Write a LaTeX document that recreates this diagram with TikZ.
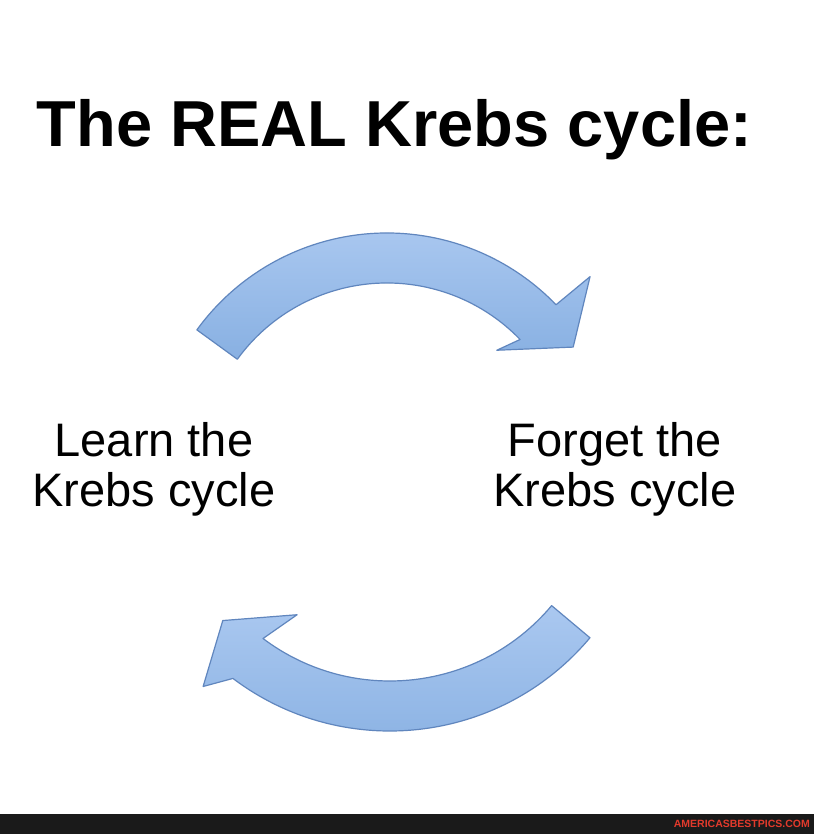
\documentclass[tikz,border=0pt]{standalone}
\usepackage{fontspec}
\setmainfont{Liberation Sans}
\usepackage{xcolor}

\definecolor{arrowfill}{RGB}{136,176,226}
\definecolor{arrowlight}{RGB}{170,200,240}
\definecolor{arrowedge}{RGB}{96,134,190}
\definecolor{barblack}{RGB}{26,26,26}
\definecolor{sitered}{RGB}{226,58,44}

\begin{document}
\begin{tikzpicture}[x=1pt, y=1pt,
    title/.style={font=\fontsize{65}{70}\selectfont\bfseries, inner sep=0pt},
    cyclelabel/.style={font=\fontsize{47}{50}\selectfont, align=center, inner sep=0pt},
    bigarrow/.style={draw=arrowedge, line width=1.2pt, line join=round, top color=arrowlight, bottom color=arrowfill},
    site/.style={font=\fontsize{10.5}{12}\selectfont\bfseries, text=sitered, inner sep=0pt}
]

% Frame
\fill[white] (0,0) rectangle (814,834);
\useasboundingbox (0,0) rectangle (814,834);

% Texts
\node[title, anchor=base] (title) at (394.5,687) {The REAL Krebs cycle:};
\node[cyclelabel, anchor=base] (learn) at (154,327) {Learn the\\Krebs cycle};
\node[cyclelabel, anchor=base] (forget) at (615,327) {Forget the\\Krebs cycle};

% Arrows
\coordinate (topc) at (387,366);
\coordinate (botc) at (390,364);
\path[bigarrow, shift={(topc)}] (144:235pt) arc[start angle=144, end angle=44, radius=235pt]
    -- (43.3:279pt) -- (33:222pt) -- (47:161pt) -- (44:185pt)
    arc[start angle=44, end angle=144, radius=185pt] -- cycle;
\path[bigarrow, shift={(botc)}] (-40:261pt) arc[start angle=-40, end angle=-127, radius=261pt]
    -- (-130.8:286pt) -- (-138:225pt) -- (-122.7:172pt) -- (-127:211pt)
    arc[start angle=-127, end angle=-40, radius=211pt] -- cycle;

% Footer
\fill[barblack] (0,0) rectangle (814,20);
\node[site, anchor=base east] (site) at (810,6) {AMERICASBESTPICS.COM};

\end{tikzpicture}
\end{document}
